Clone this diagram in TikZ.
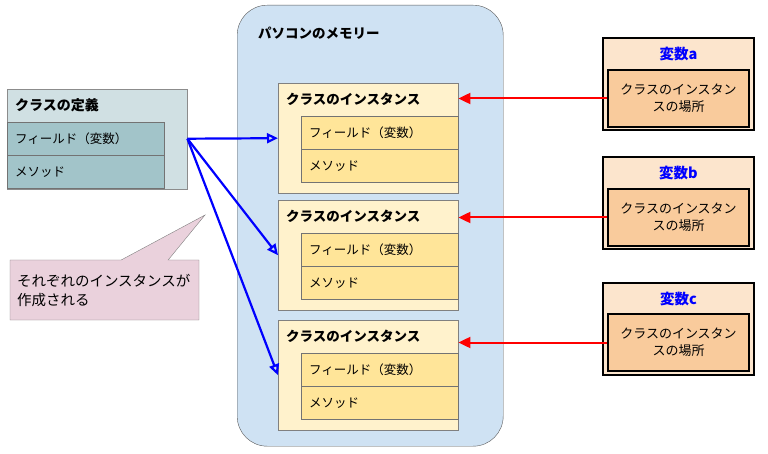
\documentclass[tikz,border=0pt]{standalone}
\usepackage{fontspec}
\setmainfont{Noto Sans CJK JP}
\usetikzlibrary{positioning,arrows.meta,shapes.callouts}

\definecolor{memblue}{HTML}{CFE2F3}
\definecolor{instcream}{HTML}{FFF2CC}
\definecolor{instgold}{HTML}{FFE599}
\definecolor{defgray}{HTML}{D0E0E3}
\definecolor{defteal}{HTML}{A2C4C9}
\definecolor{notepink}{HTML}{EAD1DC}
\definecolor{varpeach}{HTML}{FCE5CD}
\definecolor{varorange}{HTML}{F9CB9C}

\begin{document}
\begin{tikzpicture}[
    x=1pt, y=-1pt,
    every node/.style={align=center, inner sep=0pt},
    memory/.style={rectangle, draw=black!65, fill=memblue, rounded corners=30pt, minimum width=266pt, minimum height=441pt, anchor=north west},
    title/.style={anchor=west, font=\fontsize{13.5pt}{16pt}\selectfont\bfseries},
    instance/.style={rectangle, draw=black!50, fill=instcream, minimum width=180pt, minimum height=110pt, anchor=north west},
    classdef/.style={rectangle, draw=black!45, fill=defgray, minimum width=180pt, minimum height=100pt, anchor=north west},
    row/.style={rectangle, draw=black!55, text width=141pt, inner xsep=8pt, minimum height=33pt, align=left, font=\fontsize{12.5pt}{15pt}\selectfont},
    note/.style={rectangle callout, draw=black!50, fill=notepink, text width=175pt, inner xsep=7pt, minimum width=189pt, minimum height=60pt, callout pointer width=47pt, align=left, font=\fontsize{14.5pt}{19pt}\selectfont},
    var/.style={rectangle, draw=black, line width=2pt, fill=varpeach, minimum width=151pt, minimum height=92pt, anchor=north west},
    varname/.style={text=blue, font=\fontsize{14.5pt}{16pt}\selectfont\bfseries},
    place/.style={rectangle, draw=black, line width=2pt, fill=varorange, minimum width=141pt, minimum height=57pt, anchor=north, font=\fontsize{13pt}{17pt}\selectfont},
    newarrow/.style={-{Triangle[open, length=11pt, width=10pt]}, draw=blue, line width=2.2pt},
    refarrow/.style={-{Triangle[length=12pt, width=11pt]}, draw=red, fill=red, line width=2pt}
]
    \useasboundingbox (0,0) rectangle (768,454);

    % Memory
    \node[memory] (memory) at (237,5) {};
    \node[title] (memtitle) at ([xshift=21pt, yshift=-28pt]memory.north west) {パソコンのメモリー};

    % Instances
    \node[instance] (inst1) at (278,83) {};
    \node[instance] (inst2) at (278,200) {};
    \node[instance] (inst3) at (278,320) {};
    \node[title] (insttitle1) at ([xshift=8pt, yshift=-16pt]inst1.north west) {クラスのインスタンス};
    \node[title] (insttitle2) at ([xshift=8pt, yshift=-16pt]inst2.north west) {クラスのインスタンス};
    \node[title] (insttitle3) at ([xshift=8pt, yshift=-16pt]inst3.north west) {クラスのインスタンス};
    \node[row, fill=instgold, anchor=north east] (ifield1) at ([yshift=-33pt]inst1.north east) {フィールド（変数）};
    \node[row, fill=instgold, below=0pt of ifield1] (imethod1) {メソッド};
    \node[row, fill=instgold, anchor=north east] (ifield2) at ([yshift=-33pt]inst2.north east) {フィールド（変数）};
    \node[row, fill=instgold, below=0pt of ifield2] (imethod2) {メソッド};
    \node[row, fill=instgold, anchor=north east] (ifield3) at ([yshift=-33pt]inst3.north east) {フィールド（変数）};
    \node[row, fill=instgold, below=0pt of ifield3] (imethod3) {メソッド};

    % Class definition
    \node[classdef] (classdef) at (7,89) {};
    \node[title, font=\fontsize{14pt}{16pt}\selectfont\bfseries] (deftitle) at ([xshift=8pt, yshift=-16pt]classdef.north west) {クラスの定義};
    \node[row, fill=defteal, anchor=north west] (cfield) at ([yshift=-33pt]classdef.north west) {フィールド（変数）};
    \node[row, fill=defteal, below=0pt of cfield] (cmethod) {メソッド};
    \coordinate (fork) at (cfield.east -| classdef.east);

    % Note
    \node[note, callout absolute pointer={(205,215)}] (remark) at (104.5,290) {それぞれのインスタンスが\\作成される};

    % Variables
    \node[var] (vara) at (602,37) {};
    \node[var] (varb) at (602,156) {};
    \node[var] (varc) at (602,282) {};
    \node[varname] (namea) at ([yshift=-17pt]vara.north) {変数a};
    \node[varname] (nameb) at ([yshift=-17pt]varb.north) {変数b};
    \node[varname] (namec) at ([yshift=-17pt]varc.north) {変数c};
    \node[place] (placea) at ([yshift=-32pt]vara.north) {クラスのインスタン\\スの場所};
    \node[place] (placeb) at ([yshift=-32pt]varb.north) {クラスのインスタン\\スの場所};
    \node[place] (placec) at ([yshift=-31pt]varc.north) {クラスのインスタン\\スの場所};

    % Connections
    \draw[newarrow] (fork) -- (inst1.west);
    \draw[newarrow] (fork) -- (inst2.west);
    \draw[newarrow] (fork) -- (inst3.west);
    \draw[refarrow] (placea.west) -- (placea.west -| inst1.east);
    \draw[refarrow] (placeb.west) -- (placeb.west -| inst2.east);
    \draw[refarrow] (placec.west) -- (placec.west -| inst3.east);
\end{tikzpicture}
\end{document}
